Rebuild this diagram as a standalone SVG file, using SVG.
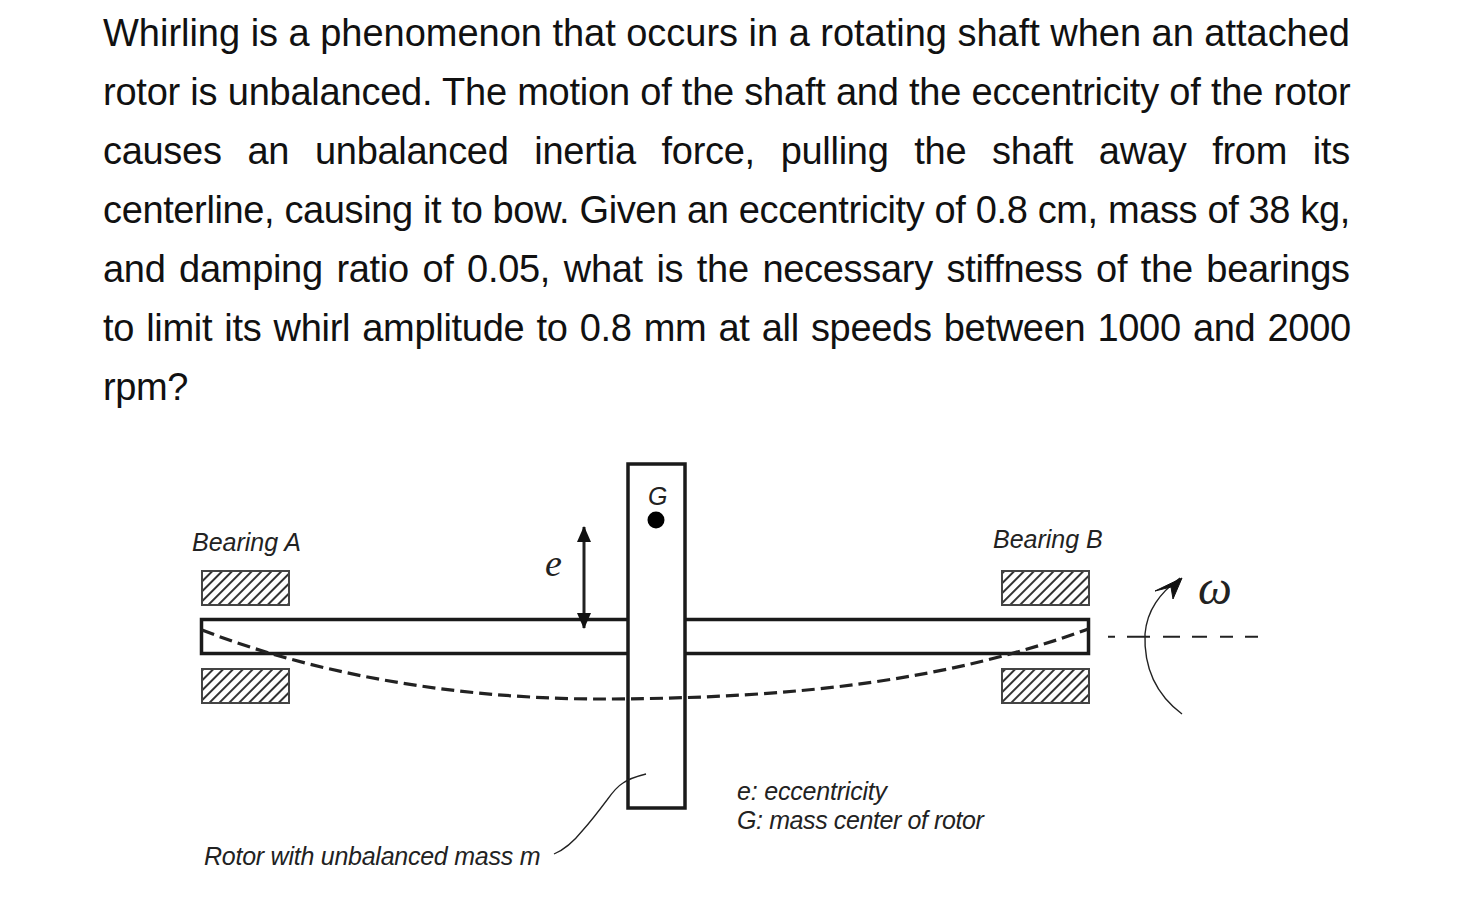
<svg xmlns="http://www.w3.org/2000/svg" width="1480" height="900" viewBox="0 0 1480 900">
<style>
.p{font-family:"Liberation Sans",Arial,sans-serif;font-size:38px;fill:#111}
.l{font-family:"Liberation Sans",Arial,sans-serif;font-style:italic;font-size:25px;fill:#222}
.g{font-family:"Liberation Serif","Times New Roman",serif;font-style:italic;fill:#222}
.b{fill:url(#hatch);stroke:#444;stroke-width:2}
.s{fill:#fff;stroke:#1a1a1a;stroke-width:3.5}
.c{fill:none;stroke:#222}
</style>
<defs>
<pattern id="hatch" width="7" height="7" patternUnits="userSpaceOnUse" patternTransform="rotate(45)"><rect width="7" height="7" fill="#fff"/><rect width="2" height="7" fill="#333"/></pattern>
<marker id="ah" markerWidth="16" markerHeight="16" refX="15" refY="7" orient="auto-start-reverse" markerUnits="userSpaceOnUse"><path d="M0 0L16 7L0 14Z" fill="#111"/></marker>
</defs>
<rect width="1480" height="900" fill="#fff"/>
<g id="question">
<text class="p" x="103" y="46" letter-spacing="-0.02">Whirling is a phenomenon that occurs in a rotating shaft when an attached</text>
<text class="p" x="103" y="105" letter-spacing="-0.22">rotor is unbalanced. The motion of the shaft and the eccentricity of the rotor</text>
<text class="p" x="103" y="164" letter-spacing="-0.3" word-spacing="15.6">causes an unbalanced inertia force, pulling the shaft away from its</text>
<text class="p" x="103" y="223" letter-spacing="-0.37">centerline, causing it to bow. Given an eccentricity of 0.8 cm, mass of 38 kg,</text>
<text class="p" x="103" y="282" letter-spacing="-0.3" word-spacing="3.35">and damping ratio of 0.05, what is the necessary stiffness of the bearings</text>
<text class="p" x="103" y="341" letter-spacing="-0.3" word-spacing="1.85">to limit its whirl amplitude to 0.8 mm at all speeds between 1000 and 2000</text>
<text class="p" x="103" y="400" letter-spacing="-0.4">rpm?</text>
</g>
<g id="bearing-a">
<text class="l" x="192" y="551">Bearing A</text>
<rect class="b" x="202" y="571" width="87" height="34"/>
<rect class="b" x="202" y="669" width="87" height="34"/>
</g>
<g id="bearing-b">
<text class="l" x="993" y="548">Bearing B</text>
<rect class="b" x="1002" y="571" width="87" height="34"/>
<rect class="b" x="1002" y="669" width="87" height="34"/>
</g>
<g id="shaft"><rect class="s" x="201.500" y="619.500" width="887" height="34"/></g>
<g id="rotor">
<rect class="s" x="628" y="464" width="57" height="344"/>
<text class="l" x="648" y="505">G</text>
<circle cx="656" cy="520" r="8.500" fill="#000"/>
</g>
<g id="connectors">
<path class="c" stroke-width="3.200" stroke-dasharray="13 6" d="M202 630C330 680 480 700 610 699C800 698 950 680 1088 629"/>
<path class="c" stroke-width="3" d="M584 527L584 628" marker-start="url(#ah)" marker-end="url(#ah)"/>
<path class="c" stroke-width="2" stroke-dasharray="7 12 23 13 17 12 15 13 13 12 13" d="M1108 636.700H1258"/>
<path class="c" stroke-width="1.400" d="M1182 714C1150 690 1144 660 1145 634C1147 610 1160 593 1180 578"/>
<path d="M1155 591L1182 578L1173 599L1171 587Z" fill="#111" stroke="#111" stroke-width="1"/>
<path class="c" stroke-width="1.300" d="M554 854C566 849 575 840 583 830C592 820 598 812 607 800C612 793 618 786 623 783C630 778 638 776 646 774"/>
</g>
<g id="labels">
<text class="g" x="545" y="576" font-size="38">e</text>
<text class="g" x="1198" y="604" font-size="48">ω</text>
<text class="l" x="737" y="800" letter-spacing="-0.2">e: eccentricity</text>
<text class="l" x="737" y="829" letter-spacing="-0.4">G: mass center of rotor</text>
<text class="l" x="204" y="865" letter-spacing="-0.25">Rotor with unbalanced mass m</text>
</g>
</svg>
